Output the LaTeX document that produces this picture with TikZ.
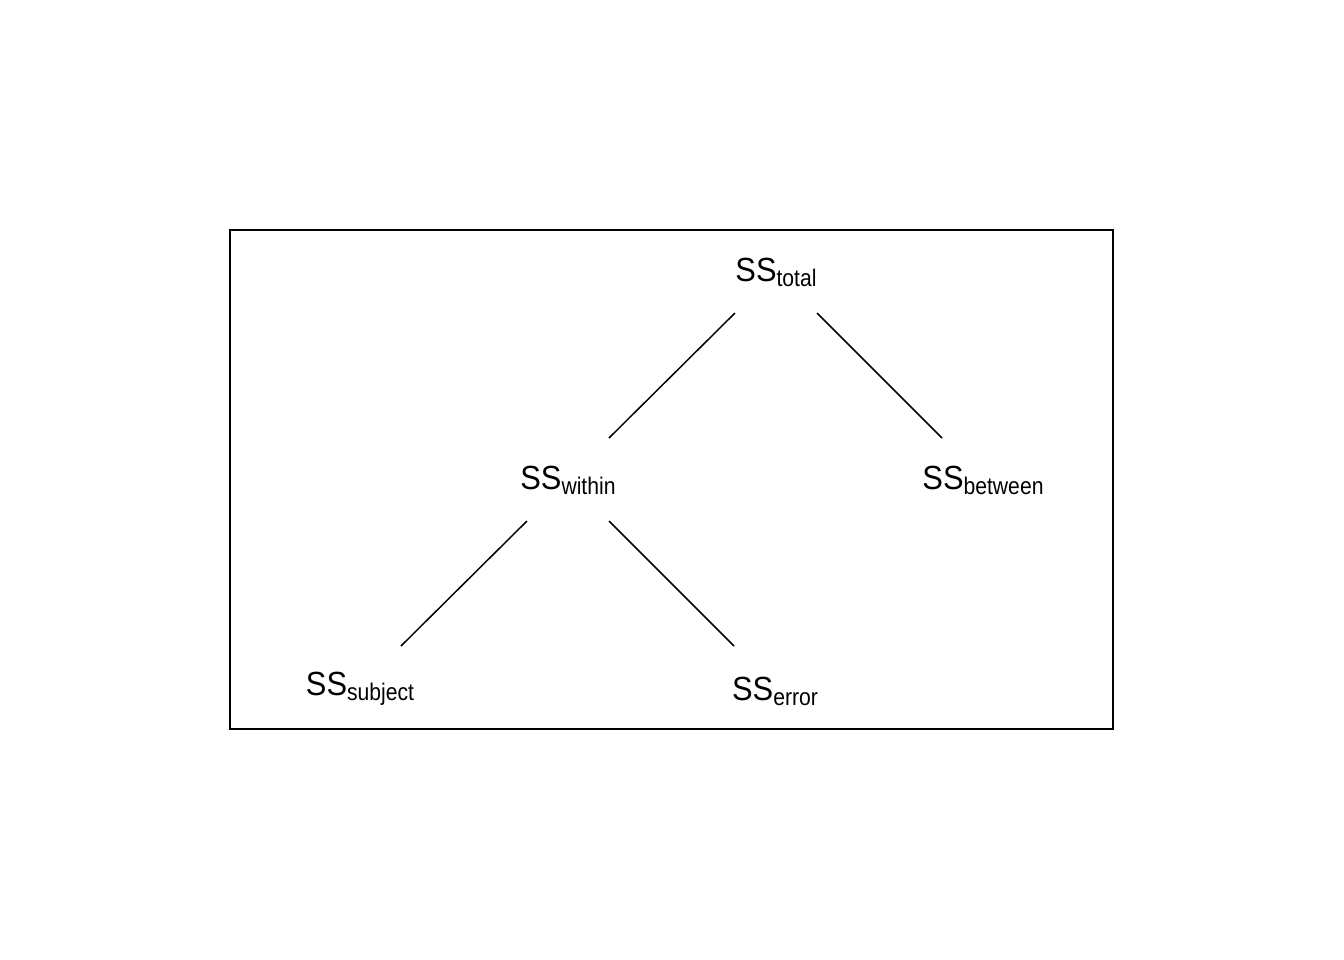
\documentclass[tikz,border=0pt]{standalone}
\usepackage{fontspec}
\setmainfont{Liberation Sans}
\newfontfamily\ssmain[FakeStretch=0.92]{Liberation Sans}
\newfontfamily\sssub[FakeStretch=0.88]{Liberation Sans}
\usetikzlibrary{calc}
\newcommand{\sslabel}[1]{{\ssmain\fontsize{9.53}{11}\selectfont SS}\raisebox{-1.42pt}{\sssub\fontsize{6.83}{8}\selectfont #1}}
\begin{document}
\begin{tikzpicture}[x=0.01cm,y=-0.01cm,
  lbl/.style={inner sep=0pt,anchor=base},
  conn/.style={line width=0.42pt,black},
  frame/.style={line width=0.42pt,black}]
\useasboundingbox (0,0) rectangle (1344,960);
\fill[white] (0,0) rectangle (1344,960);
\draw[frame] (230,230) rectangle (1113,729);
% level points
\coordinate (pt) at (776,270);
\coordinate (pw) at (568,480);
\coordinate (pb) at (983,480);
\coordinate (ps) at (360,688);
\coordinate (pe) at (775,688);
% labels
\node[lbl] (total) at (776,281.7) {\sslabel{total}};
\node[lbl] (within) at (568,489.3) {\sslabel{within}};
\node[lbl] (between) at (983,489.3) {\sslabel{between}};
\node[lbl] (subject) at (360,695) {\sslabel{subject}};
\node[lbl] (error) at (775,700) {\sslabel{error}};
% connectors
\draw[conn] ($(pt)+(-41,43)$) -- ($(pw)+(41,-42)$);
\draw[conn] ($(pt)+(41,43)$) -- ($(pb)+(-41,-42)$);
\draw[conn] ($(pw)+(-41,41)$) -- ($(ps)+(41,-42)$);
\draw[conn] ($(pw)+(41,41)$) -- ($(pe)+(-41,-42)$);
\end{tikzpicture}
\end{document}
